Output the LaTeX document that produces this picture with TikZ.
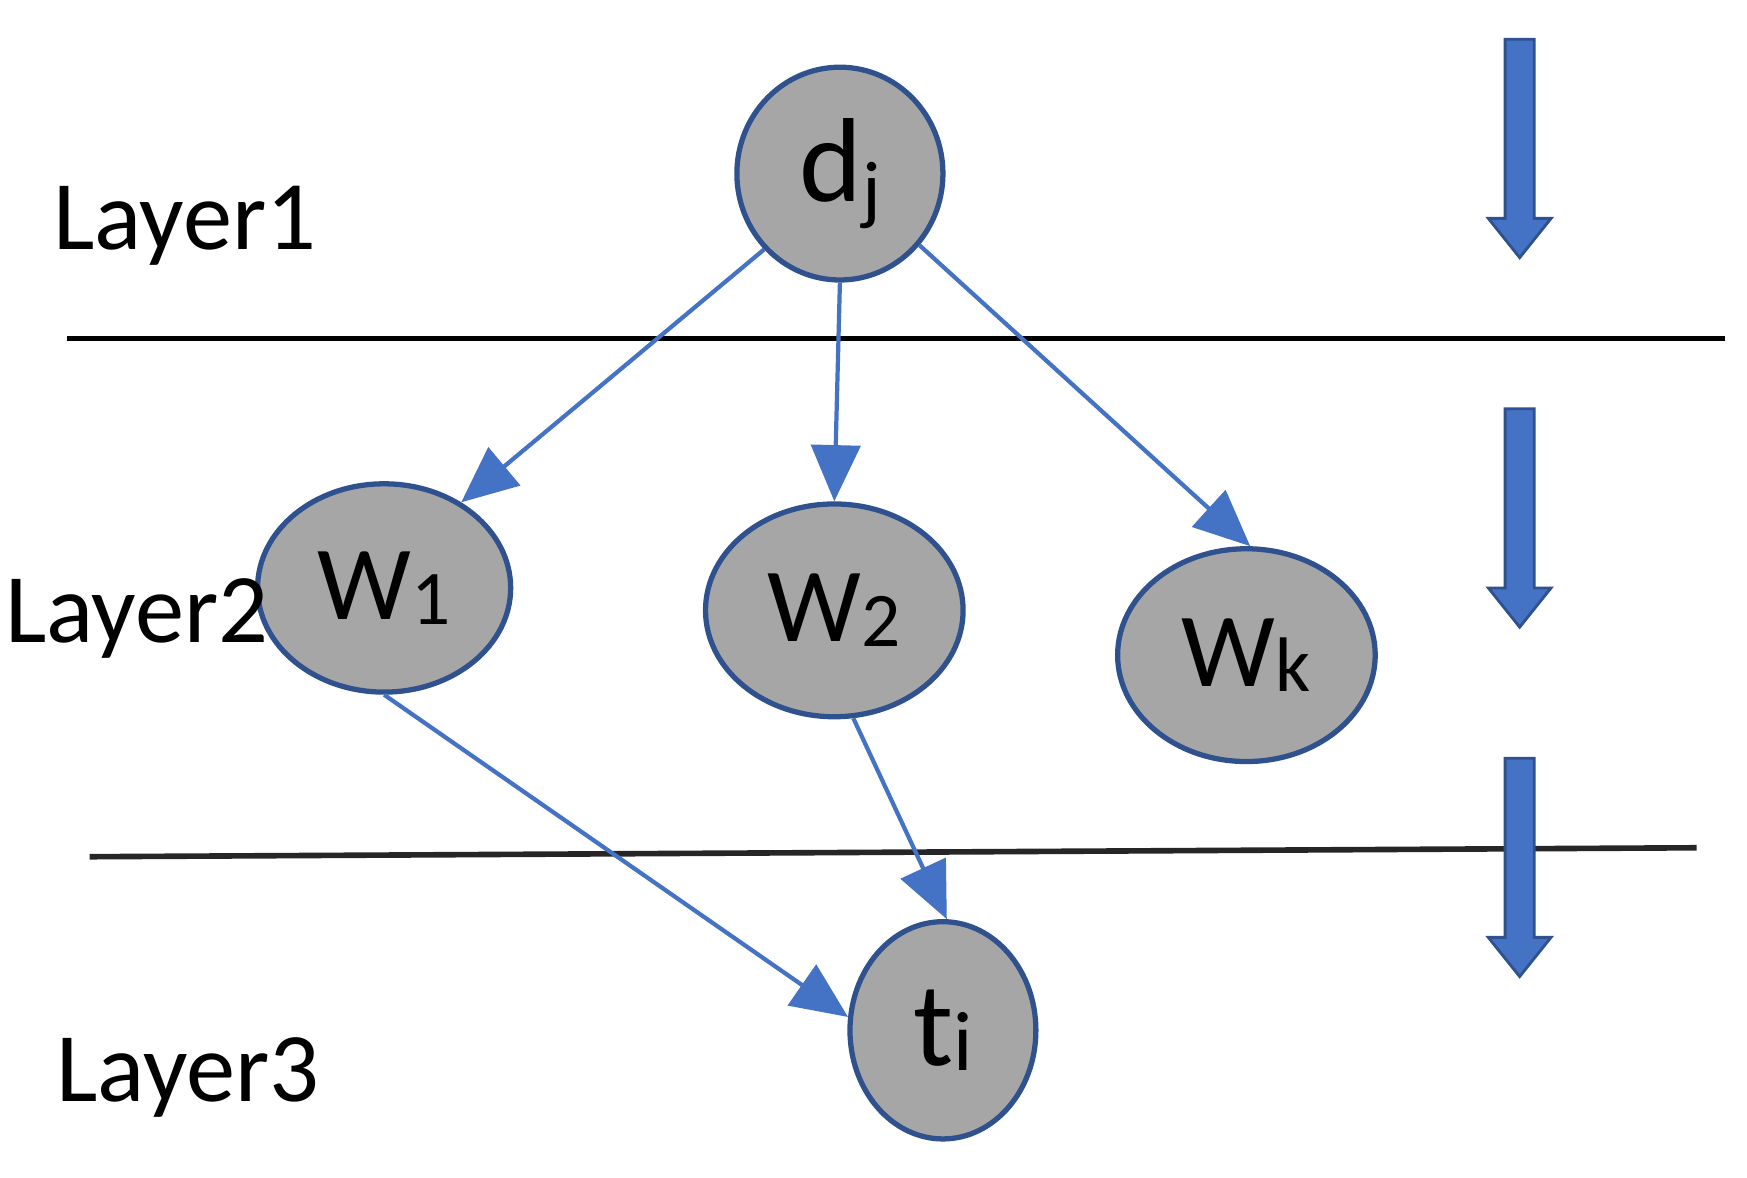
\documentclass[tikz,border=0pt]{standalone}
\usepackage{fontspec}
\setmainfont{Carlito}
\usetikzlibrary{shapes.geometric,shapes.arrows,arrows.meta}
\definecolor{eblue}{RGB}{68,114,196}
\definecolor{nborder}{RGB}{47,82,143}
\definecolor{ngray}{RGB}{166,166,166}
\begin{document}
\begin{tikzpicture}[x=0.0112cm,y=-0.0112cm,
  nd/.style={ellipse,draw=nborder,line width=1.5pt,fill=ngray,inner sep=0pt},
  lab/.style={font=\fontsize{28}{30}\selectfont},
  ed/.style={draw=eblue,line width=1.2pt,-{Triangle[length=16pt,width=14pt]}},
  barr/.style={fill=eblue,draw=nborder,line width=0.8pt}]
\useasboundingbox (0,0) rectangle (1560,1051);
\node[nd,minimum width=184\pgflinewidth/\pgflinewidth*0.0112cm*1,minimum height=0.0112cm*190] (dj) at (750,155) {\fontsize{34}{36}\selectfont d\raisebox{-0.25ex}{\fontsize{22}{24}\selectfont j}};
\node[nd,minimum width=0.0112cm*226,minimum height=0.0112cm*186] (w1) at (343,525) {\fontsize{30}{32}\selectfont W\raisebox{-0.1ex}{\fontsize{22}{24}\selectfont 1}};
\node[nd,minimum width=0.0112cm*230,minimum height=0.0112cm*190] (w2) at (745,545) {\fontsize{30}{32}\selectfont W\raisebox{-0.1ex}{\fontsize{22}{24}\selectfont 2}};
\node[nd,minimum width=0.0112cm*230,minimum height=0.0112cm*190] (wk) at (1113,585) {\fontsize{30}{32}\selectfont W\raisebox{-0.1ex}{\fontsize{22}{24}\selectfont k}};
\node[nd,minimum width=0.0112cm*166,minimum height=0.0112cm*194] (ti) at (842,920) {\fontsize{34}{36}\selectfont t\raisebox{-0.1ex}{\fontsize{24}{26}\selectfont i}};
\draw[line width=1.3pt] (60,302) -- (1540,302);
\draw[line width=1.6pt,black!85] (80,765) -- (1515,757);
\node[lab] (l1) at (165,202) {Layer1};
\node[lab] (l2) at (122,552) {Layer2};
\node[lab] (l3) at (168,962) {Layer3};
\draw[ed] (dj.225) -- (w1.48);
\draw[ed] (dj.south) -- (w2.north);
\draw[ed] (dj.-42) -- (wk.88);
\draw[ed] (w1.south) -- (ti.172);
\draw[ed] (w2.-80) -- (ti.88);
\foreach \n/\t/\b in {a1/35/230,a2/365/560,a3/677/872}{
  \draw[barr] (1344,\t) -- (1370,\t) -- (1370,\b-35) -- (1385,\b-35) -- (1357,\b) -- (1329,\b-35) -- (1344,\b-35) -- cycle;
  \coordinate (\n) at (1357,\t);
}
\end{tikzpicture}
\end{document}
